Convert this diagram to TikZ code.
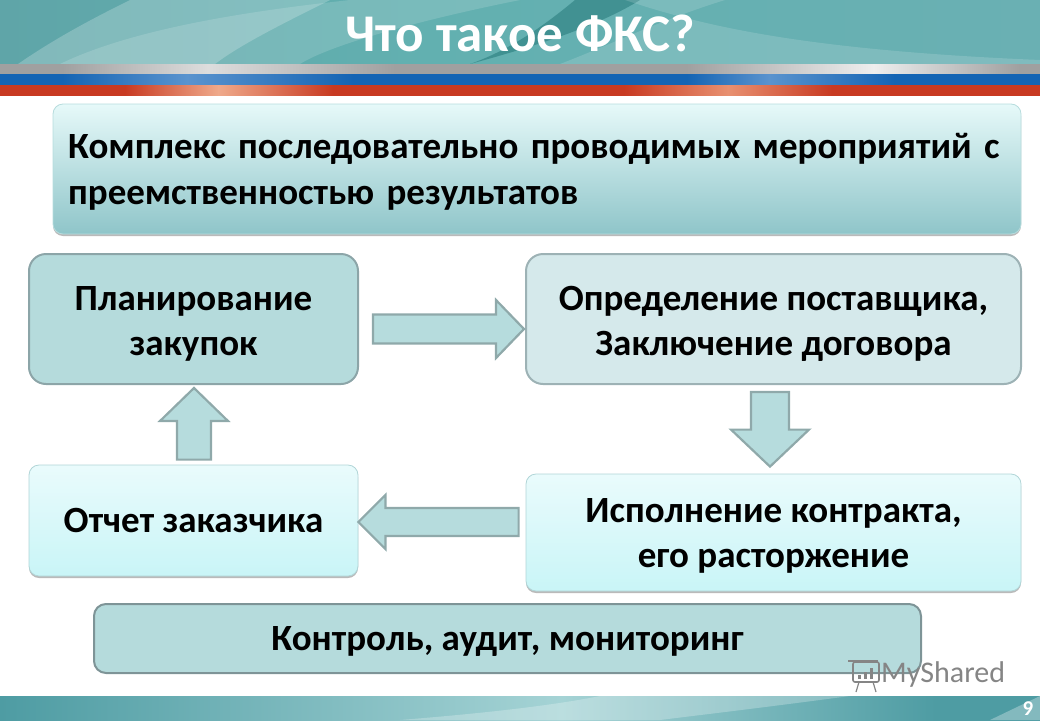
\documentclass[tikz,border=0pt]{standalone}
\usepackage{fontspec}
\setmainfont{Carlito}
\usetikzlibrary{calc, shadows}

\definecolor{boxline}{HTML}{8CA5A8}
\definecolor{arrowfill}{HTML}{B6DCDD}
\definecolor{arrowline}{HTML}{8FA9AA}
\definecolor{planfill}{HTML}{B5DBDC}
\definecolor{supplierfill}{HTML}{D5E9EB}
\definecolor{palefill}{HTML}{C9F5F7}
\definecolor{complextop}{HTML}{E6F9F9}
\definecolor{complexbot}{HTML}{8FC5C9}
\definecolor{markgray}{HTML}{858585}
\definecolor{headA}{HTML}{5FA5A8}
\definecolor{headB}{HTML}{62B0B0}
\definecolor{headC}{HTML}{6AB0B3}
\definecolor{grayA}{HTML}{A0A0A0}
\definecolor{grayB}{HTML}{DDDDDD}
\definecolor{grayC}{HTML}{EEEEEE}
\definecolor{blueA}{HTML}{1464B4}
\definecolor{blueB}{HTML}{5A93CE}
\definecolor{redA}{HTML}{C83A22}
\definecolor{redB}{HTML}{EFA98A}
\definecolor{redC}{HTML}{E89070}
\definecolor{footA}{HTML}{4E9CA3}
\definecolor{footB}{HTML}{A5D3D5}

\pgfdeclarehorizontalshading{headshade}{100bp}{
  color(0bp)=(headA); color(25bp)=(headA); color(45bp)=(headB); color(75bp)=(headC); color(100bp)=(headC)}
\pgfdeclarehorizontalshading{grayband}{100bp}{
  color(0bp)=(grayA); color(28bp)=(grayA); color(35bp)=(grayB); color(44bp)=(grayA);
  color(58bp)=(grayA); color(67bp)=(grayC); color(74bp)=(grayA); color(100bp)=(grayA)}
\pgfdeclarehorizontalshading{blueband}{100bp}{
  color(0bp)=(blueA); color(28bp)=(blueA); color(34bp)=(blueB); color(42bp)=(blueA);
  color(58bp)=(blueA); color(62bp)=(blueB); color(68bp)=(blueA); color(100bp)=(blueA)}
\pgfdeclarehorizontalshading{redband}{100bp}{
  color(0bp)=(redA); color(31bp)=(redA); color(35.5bp)=(redB); color(41bp)=(redA);
  color(55bp)=(redA); color(60bp)=(redC); color(65bp)=(redA); color(100bp)=(redA)}
\pgfdeclarehorizontalshading{footshade}{100bp}{
  color(0bp)=(footA); color(25bp)=(footA); color(52bp)=(footB); color(70bp)=(footA); color(100bp)=(footA)}

\tikzset{
  box/.style={draw=boxline, line width=2pt, rounded corners=17pt, align=center,
    font=\fontsize{37}{45}\selectfont\bfseries, text=black, inner sep=0pt},
  softshadow/.style={drop shadow={shadow xshift=0pt, shadow yshift=-2pt, fill=black!45, opacity=.6}},
  paleface/.style={draw=palefill!60!boxline, line width=.8pt, top color=palefill!40!white, bottom color=palefill,
    softshadow, rounded corners=10pt},
  blockarrow/.style n args={3}{draw=arrowline, fill=arrowfill, line width=2.2pt, miter limit=4,
    to path={($(\tikztostart)!#1pt!90:(\tikztotarget)$)
      -- ($(\tikztotarget)!#3pt!(\tikztostart)!#1pt!90:(\tikztotarget)$)
      -- ($(\tikztotarget)!#3pt!(\tikztostart)!#2pt!90:(\tikztotarget)$)
      -- (\tikztotarget)
      -- ($(\tikztotarget)!#3pt!(\tikztostart)!#2pt!-90:(\tikztotarget)$)
      -- ($(\tikztotarget)!#3pt!(\tikztostart)!#1pt!-90:(\tikztotarget)$)
      -- ($(\tikztostart)!#1pt!-90:(\tikztotarget)$) -- cycle}}
}

\begin{document}
\begin{tikzpicture}[x=1pt, y=-1pt]
\useasboundingbox (0,0) rectangle (1040,720);

% header
\shade[shading=headshade] (0,0) rectangle (1040,64);
\fill[white, opacity=.22] (18,64) .. controls (60,35) and (100,15) .. (130,0) -- (330,0) .. controls (280,25) and (240,45) .. (215,64) -- cycle;
\fill[white, opacity=.15] (60,64) .. controls (130,30) and (240,12) .. (350,0) -- (520,0) .. controls (420,20) and (330,45) .. (300,64) -- cycle;
\fill[teal!70!black, opacity=.35] (470,64) .. controls (540,45) and (600,25) .. (640,0) -- (575,0) .. controls (545,25) and (510,50) .. (470,64) -- cycle;
\fill[white, opacity=.15] (625,0) .. controls (700,25) and (800,50) .. (1040,60) -- (1040,64) -- (560,64) .. controls (610,45) and (660,20) .. (725,0) -- cycle;
\shade[shading=grayband] (0,64) rectangle (1040,74);
\shade[shading=blueband] (0,74) rectangle (1040,85);
\shade[shading=redband] (0,85) rectangle (1040,95);

\node[text=white, font=\fontsize{53}{56}\selectfont\bfseries, inner sep=0pt] (title) at (520,33) {Что такое ФКС?};

% footer
\shade[shading=footshade] (0,696) rectangle (1040,720);
\fill[white, opacity=.25] (400,720) .. controls (500,712) and (560,704) .. (600,696) -- (850,696) .. controls (760,708) and (700,715) .. (660,720) -- cycle;
\fill[white, opacity=.3] (990,720) -- (1040,696) -- (1040,720) -- cycle;
\node[text=white, font=\fontsize{21}{24}\selectfont\bfseries, inner sep=0pt] (page) at (1028,709) {9};

% boxes
\node[box, draw=arrowfill, line width=.8pt, rounded corners=10pt, top color=complextop, bottom color=complexbot, softshadow,
  minimum width=968pt, minimum height=130pt] (complex) at (537,169) {};
\node[font=\fontsize{37}{46}\selectfont\bfseries, text width=940pt, inner sep=0pt, anchor=west] (complextext) at (68,172)
  {\makebox[937pt][s]{Комплекс последовательно проводимых мероприятий с}\newline преемственностью результатов};

\node[box, text height=73pt, text depth=0pt, fill=planfill, minimum width=329pt, minimum height=130pt] (plan) at (193.5,319)
  {Планирование\\закупок};
\node[box, text height=73pt, text depth=0pt, draw=boxline!85, fill=supplierfill, minimum width=495pt, minimum height=130pt] (supplier) at (773.5,319)
  {Определение поставщика,\\Заключение договора};
\node[box, text depth=0pt, paleface, minimum width=495pt, minimum height=117pt] (contract) at (773.5,532.5)
  {Исполнение контракта,\\его расторжение};
\node[box, paleface, minimum width=329pt, minimum height=111pt] (report) at (193.5,520.5)
  {Отчет заказчика};
\node[box, text depth=0pt, draw=boxline!90!black, fill=planfill, rounded corners=12pt, minimum width=827pt, minimum height=69pt] (control) at (507.5,638.5)
  {Контроль, аудит, мониторинг};

% arrows
\coordinate (a1) at ($(plan.east)+(14,10)$);
\coordinate (a2) at ($(supplier.west)+(-1,10)$);
\coordinate (b1) at ($(supplier.south)+(-3.5,7)$);
\coordinate (b2) at ($(contract.north)+(-3.5,-7)$);
\coordinate (c1) at ($(contract.west)+(-7,-10.5)$);
\coordinate (c2) at ($(report.east)+(0,1.5)$);
\coordinate (d1) at ($(report.north)+(.5,-5)$);
\coordinate (d2) at ($(plan.south)+(.5,3)$);

\draw[blockarrow={14.5}{29}{28}] (a1) to (a2);
\draw[blockarrow={19}{39}{37}] (b1) to (b2);
\draw[blockarrow={14}{27}{27}] (c1) to (c2);
\draw[blockarrow={17}{34}{33}] (d1) to (d2);

% watermark
\node[text=markgray, font=\fontsize{30}{33}\selectfont, inner sep=0pt, anchor=west] (mark) at (881,674) {MyShared};
\draw[markgray, line width=1.6pt, rounded corners=2pt] (853,662) rectangle (879,682);
\draw[markgray, line width=2pt] (848,661) -- (878,661);
\foreach \i/\j in {859/675, 865/672, 871/668}
\draw[markgray, line width=3pt] (\i,679) -- (\i,\j);
\draw[markgray, line width=1.2pt] (859,682) -- (856,692);
\draw[markgray, line width=1.2pt] (873,682) -- (876,692);
\end{tikzpicture}
\end{document}
